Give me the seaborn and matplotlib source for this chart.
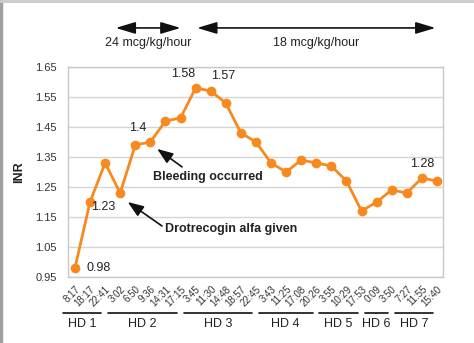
import matplotlib
matplotlib.use("Agg")
import matplotlib.pyplot as plt
import matplotlib.transforms as mtransforms
from matplotlib.lines import Line2D
import seaborn as sns
import pandas as pd
import numpy as np

# ---- data ----
times = ["8:17", "18:17", "22:41",
         "3:02", "6:50", "9:36", "14:31", "17:15",
         "3:45", "11:30", "14:48", "18:57", "22:45",
         "3:43", "11:25", "17:08", "20:26",
         "3:55", "10:29", "17:53",
         "0:09", "3:50",
         "7:27", "11:55", "15:40"]
inr = [0.98, 1.20, 1.33,
       1.23, 1.39, 1.40, 1.47, 1.48,
       1.58, 1.57, 1.53, 1.43, 1.40,
       1.33, 1.30, 1.34, 1.33,
       1.32, 1.27, 1.17,
       1.20, 1.24,
       1.23, 1.28, 1.27]
days = ["HD 1", "HD 2", "HD 3", "HD 4", "HD 5", "HD 6", "HD 7"]
day_counts = [3, 5, 5, 4, 3, 2, 3]
labelled = [0, 3, 5, 8, 9, 23]   # indices of points with value labels

sns.set_theme(style="white")
plt.rcParams['font.family'] = ['Liberation Sans', 'DejaVu Sans']

df = pd.DataFrame({"idx": np.arange(len(inr)), "INR": inr})

fig = plt.figure(figsize=(4.74, 3.43), dpi=100)
ax = fig.add_axes([68/474, 1-277/343, (443-68)/474, (277-67)/343])

orange = "#F7891F"
sns.lineplot(data=df, x="idx", y="INR", ax=ax, color=orange, linewidth=2,
             marker="o", markersize=7, markeredgewidth=0)

ax.set_xlim(-0.46, 24.4)
ax.set_ylim(0.95, 1.65)
yt = [0.95, 1.05, 1.15, 1.25, 1.35, 1.45, 1.55, 1.65]
ax.set_yticks(yt)
ax.set_yticklabels([f"{v:.2f}" for v in yt], fontsize=8, color="#333333")
ax.yaxis.grid(True, color="#d4d4d4", linewidth=1)
ax.set_xticks(df["idx"])
ax.set_xticklabels(times, rotation=45, ha="right", va="top",
                   rotation_mode="anchor", fontsize=7, color="#333333")
ax.tick_params(axis="x", length=4, width=0.8, color="#c8c8c8", pad=1)
ax.tick_params(axis="y", length=6, width=0.8, color="#c8c8c8", pad=2)
for s in ax.spines.values():
    s.set_color("#c8c8c8")
    s.set_linewidth(1)
ax.set_xlabel("")
ax.set_ylabel("INR", fontsize=9, fontweight="bold", color="#222222", labelpad=7)

# value labels
offsets = {0: (8, 0, "left", "center"),
           3: (-12, -10, "center", "center"),
           5: (-9, 10, "center", "center"),
           8: (-9, 10, "center", "center"),
           9: (9, 11, "center", "center"),
           23: (0, 10, "center", "center")}
for i in labelled:
    dx, dy, ha, va = offsets[i]
    v = inr[i]
    txt = f"{v:.2f}".rstrip("0") if v == 1.40 else f"{v:.2f}"
    ax.annotate(txt, (i, v), xytext=(dx, dy), textcoords="offset points",
                ha=ha, va=va, fontsize=9, color="#222222")

# callouts
arrow_kw = dict(arrowstyle="-|>,head_length=0.8,head_width=0.3",
                color="#111111", lw=1.2, shrinkA=0, shrinkB=0)
ax.annotate("", xy=(5.45, 1.377), xytext=(7.1, 1.317), arrowprops=arrow_kw)
ax.text(5.2, 1.283, "Bleeding occurred", fontsize=9, fontweight="bold",
        color="#222222", ha="left", va="center")
ax.annotate("", xy=(3.5, 1.20), xytext=(5.77, 1.12), arrowprops=arrow_kw)
ax.text(5.95, 1.11, "Drotrecogin alfa given", fontsize=9, fontweight="bold",
        color="#222222", ha="left", va="center")

# dosage arrows above
trans = mtransforms.blended_transform_factory(ax.transData, ax.transAxes)
doses = [("24 mcg/kg/hour", 2.7, 7.0), ("18 mcg/kg/hour", 8.1, 23.9)]
for lab, x0, x1 in doses:
    ax.annotate("", xy=(x1, 1.186), xytext=(x0, 1.186), xycoords=trans, textcoords=trans,
                arrowprops=dict(arrowstyle="<|-|>,head_length=1.0,head_width=0.3",
                                color="#111111", lw=1.2, shrinkA=0, shrinkB=0),
                annotation_clip=False)
    ax.text((x0 + x1) / 2, 1.114, lab, transform=trans, ha="center", va="center",
            fontsize=9, color="#222222")

# hospital day groups
start = 0
for d, n in zip(days, day_counts):
    a, b = start - 0.8, start + n - 1 - 0.25
    ax.add_line(Line2D([a, b], [-0.171, -0.171], transform=trans, color="#111111",
                       lw=1.2, clip_on=False))
    ax.text((a + b) / 2, -0.222, d, transform=trans, ha="center", va="center",
            fontsize=9, color="#222222")
    start += n

# image frame (gray edge at left and top)
fig.add_artist(Line2D([0.002, 0.002], [0, 1], transform=fig.transFigure,
                      color="#a0a0a0", lw=2.5))
fig.add_artist(Line2D([0, 1], [0.997, 0.997], transform=fig.transFigure,
                      color="#cccccc", lw=2))

fig.savefig("out.png", dpi=100)
